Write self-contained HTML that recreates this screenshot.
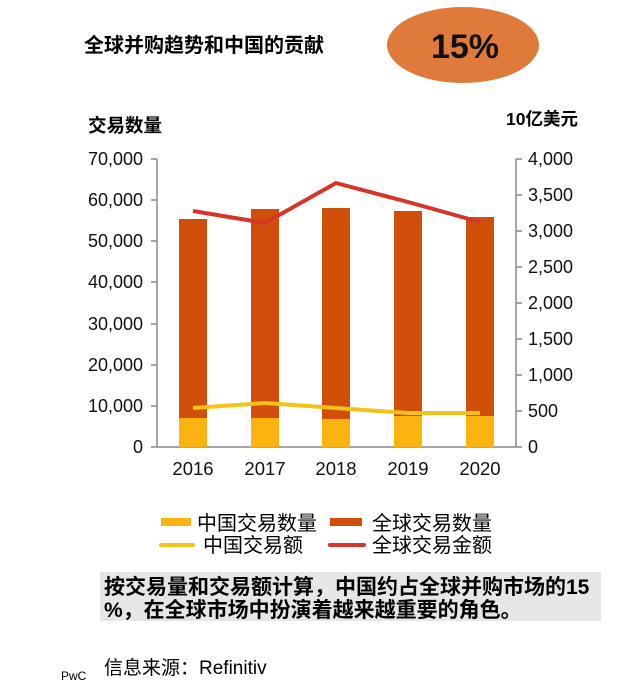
<!DOCTYPE html>
<html><head><meta charset="utf-8"><style>
body{margin:0;width:640px;height:694px;background:#fff;overflow:hidden;font-family:"Liberation Sans","Noto Sans CJK SC",sans-serif;}
</style></head><body>
<svg width="640" height="694" xmlns="http://www.w3.org/2000/svg" style="position:absolute;left:0;top:0;font-family:'Liberation Sans','Noto Sans CJK SC',sans-serif">
<text x="84" y="52" font-size="20" font-weight="bold" fill="#000">全球并购趋势和中国的贡献</text>
<ellipse cx="463" cy="45" rx="76" ry="38" fill="#e07a3a"/>
<text x="465" y="58" font-size="34" font-weight="bold" text-anchor="middle" fill="#111">15%</text>
<text x="88" y="132" font-size="18.5" font-weight="bold">交易数量</text>
<text x="578" y="125" font-size="17.5" font-weight="bold" text-anchor="end">10亿美元</text>
<g stroke="#888" stroke-width="1.5">
<line x1="157" y1="159" x2="157" y2="447"/><line x1="516" y1="159" x2="516" y2="447"/>
<line x1="157" y1="447" x2="516" y2="447"/>
<line x1="151" y1="159" x2="157" y2="159"/><line x1="151" y1="200" x2="157" y2="200"/><line x1="151" y1="241" x2="157" y2="241"/><line x1="151" y1="282" x2="157" y2="282"/><line x1="151" y1="324" x2="157" y2="324"/><line x1="151" y1="365" x2="157" y2="365"/><line x1="151" y1="406" x2="157" y2="406"/><line x1="151" y1="447" x2="157" y2="447"/>
<line x1="516" y1="159" x2="522" y2="159"/><line x1="516" y1="195" x2="522" y2="195"/><line x1="516" y1="231" x2="522" y2="231"/><line x1="516" y1="267" x2="522" y2="267"/><line x1="516" y1="303" x2="522" y2="303"/><line x1="516" y1="339" x2="522" y2="339"/><line x1="516" y1="375" x2="522" y2="375"/><line x1="516" y1="411" x2="522" y2="411"/><line x1="516" y1="447" x2="522" y2="447"/>
</g>
<g font-size="18" fill="#111" text-anchor="end">
<text x="143" y="165">70,000</text><text x="143" y="206">60,000</text><text x="143" y="247">50,000</text><text x="143" y="288">40,000</text><text x="143" y="330">30,000</text><text x="143" y="371">20,000</text><text x="143" y="412">10,000</text><text x="143" y="453">0</text>
</g>
<g font-size="18" fill="#111">
<text x="528" y="165">4,000</text><text x="528" y="201">3,500</text><text x="528" y="237">3,000</text><text x="528" y="273">2,500</text><text x="528" y="309">2,000</text><text x="528" y="345">1,500</text><text x="528" y="381">1,000</text><text x="528" y="417">500</text><text x="528" y="453">0</text>
</g>
<g font-size="18.5" fill="#111" text-anchor="middle">
<text x="193" y="475">2016</text><text x="265" y="475">2017</text><text x="336" y="475">2018</text><text x="408" y="475">2019</text><text x="480" y="475">2020</text>
</g>
<g fill="#d14f0a">
<rect x="179" y="219" width="28" height="200"/><rect x="251" y="209" width="28" height="210"/><rect x="322" y="208" width="28" height="211"/><rect x="394" y="211" width="28" height="206"/><rect x="466" y="217" width="28" height="200"/>
</g>
<g fill="#fbb310">
<rect x="179" y="418" width="28" height="29"/><rect x="251" y="418" width="28" height="29"/><rect x="322" y="419" width="28" height="28"/><rect x="394" y="416" width="28" height="31"/><rect x="466" y="416" width="28" height="31"/>
</g>
<polyline points="193,211 265,223 336,183 408,202 480,222" fill="none" stroke="#d8352a" stroke-width="4" stroke-linejoin="round"/>
<polyline points="193,408 265,403 336,408 408,413 480,413" fill="none" stroke="#f6c21a" stroke-width="4" stroke-linejoin="round"/>
<rect x="161" y="518" width="30" height="8" fill="#fbb310"/>
<text x="197" y="530" font-size="20">中国交易数量</text>
<rect x="330" y="518" width="32" height="8" fill="#d14f0a"/>
<text x="372" y="530" font-size="20">全球交易数量</text>
<line x1="161" y1="545" x2="193" y2="545" stroke="#f6c21a" stroke-width="4" stroke-linecap="round"/>
<text x="203" y="552" font-size="20">中国交易额</text>
<line x1="330" y1="545" x2="364" y2="545" stroke="#d8352a" stroke-width="4" stroke-linecap="round"/>
<text x="372" y="552" font-size="20">全球交易金额</text>
<rect x="100" y="572" width="501" height="49" fill="#e6e6e6"/>
<text x="104" y="594" font-size="21" font-weight="bold">按交易量和交易额计算，中国约占全球并购市场的15</text>
<text x="104" y="617" font-size="21" font-weight="bold">%，在全球市场中扮演着越来越重要的角色。</text>
<text x="61" y="680" font-size="12">PwC</text>
<text x="104" y="674" font-size="19">信息来源：Refinitiv</text>
</svg>
</body></html>
